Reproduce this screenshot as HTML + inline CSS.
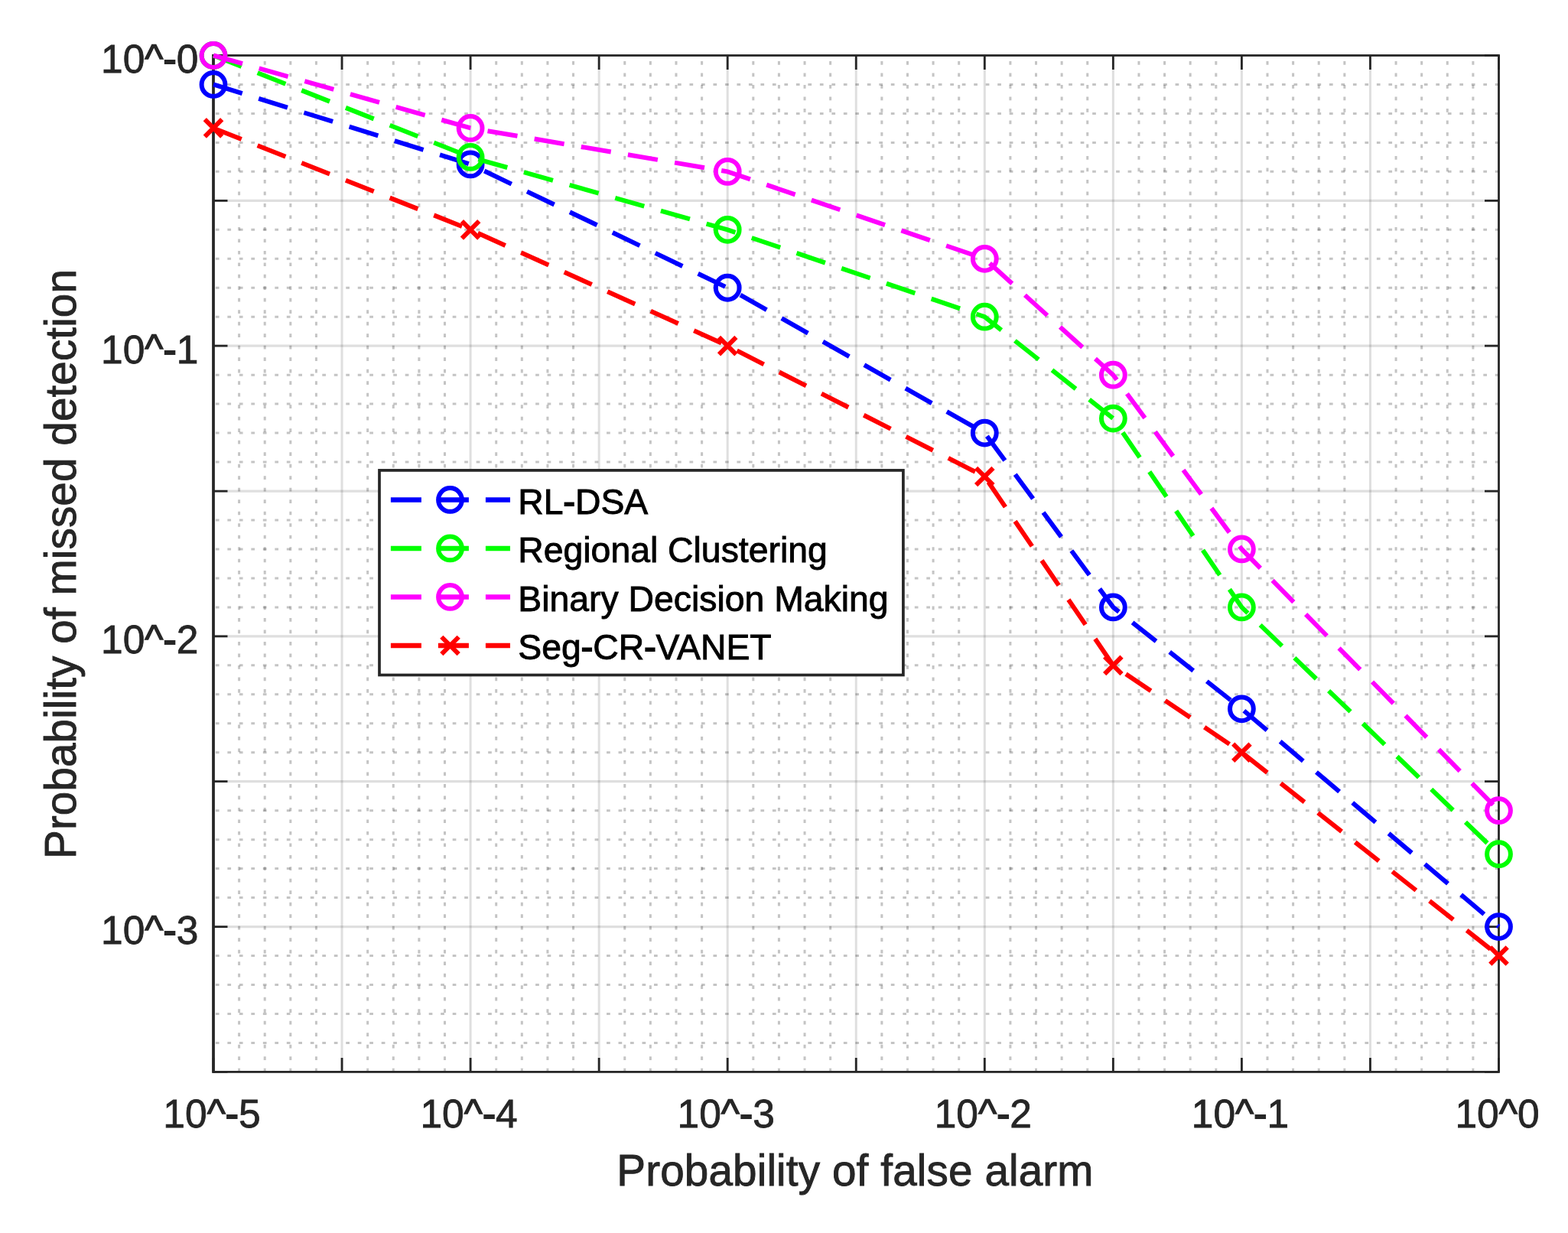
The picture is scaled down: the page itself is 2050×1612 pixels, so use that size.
<!DOCTYPE html>
<html><head><meta charset="utf-8"><title>Probability of missed detection vs false alarm</title>
<style>html,body{margin:0;padding:0;background:#fff;width:2050px;height:1612px;overflow:hidden;}svg{display:block;}</style>
</head><body>
<svg width="2050" height="1612" viewBox="0 0 2050 1612">
<rect width="2050" height="1612" fill="#fff"/>
<path d="M447.05 72.5V1401.4M615.1 72.5V1401.4M783.15 72.5V1401.4M951.2 72.5V1401.4M1119.25 72.5V1401.4M1287.3 72.5V1401.4M1455.35 72.5V1401.4M1623.4 72.5V1401.4M1791.45 72.5V1401.4" stroke="#262626" stroke-opacity="0.15" stroke-width="3" fill="none"/>
<path d="M279 262.34H1959.5M279 452.19H1959.5M279 642.03H1959.5M279 831.87H1959.5M279 1021.71H1959.5M279 1211.56H1959.5" stroke="#262626" stroke-opacity="0.15" stroke-width="3.2" fill="none"/>
<path d="M312.61 1401.4V72.5M346.22 1401.4V72.5M379.83 1401.4V72.5M413.44 1401.4V72.5M480.66 1401.4V72.5M514.27 1401.4V72.5M547.88 1401.4V72.5M581.49 1401.4V72.5M648.71 1401.4V72.5M682.32 1401.4V72.5M715.93 1401.4V72.5M749.54 1401.4V72.5M816.76 1401.4V72.5M850.37 1401.4V72.5M883.98 1401.4V72.5M917.59 1401.4V72.5M984.81 1401.4V72.5M1018.42 1401.4V72.5M1052.03 1401.4V72.5M1085.64 1401.4V72.5M1152.86 1401.4V72.5M1186.47 1401.4V72.5M1220.08 1401.4V72.5M1253.69 1401.4V72.5M1320.91 1401.4V72.5M1354.52 1401.4V72.5M1388.13 1401.4V72.5M1421.74 1401.4V72.5M1488.96 1401.4V72.5M1522.57 1401.4V72.5M1556.18 1401.4V72.5M1589.79 1401.4V72.5M1657.01 1401.4V72.5M1690.62 1401.4V72.5M1724.23 1401.4V72.5M1757.84 1401.4V72.5M1825.06 1401.4V72.5M1858.67 1401.4V72.5M1892.28 1401.4V72.5M1925.89 1401.4V72.5" stroke="#262626" stroke-opacity="0.27" stroke-width="3" stroke-dasharray="4.7 10.79" fill="none"/>
<path d="M1959.5 110.47H279M1959.5 148.44H279M1959.5 186.41H279M1959.5 224.37H279M1959.5 300.31H279M1959.5 338.28H279M1959.5 376.25H279M1959.5 414.22H279M1959.5 490.15H279M1959.5 528.12H279M1959.5 566.09H279M1959.5 604.06H279M1959.5 680H279M1959.5 717.97H279M1959.5 755.93H279M1959.5 793.9H279M1959.5 869.84H279M1959.5 907.81H279M1959.5 945.78H279M1959.5 983.75H279M1959.5 1059.68H279M1959.5 1097.65H279M1959.5 1135.62H279M1959.5 1173.59H279M1959.5 1249.53H279M1959.5 1287.49H279M1959.5 1325.46H279M1959.5 1363.43H279" stroke="#262626" stroke-opacity="0.27" stroke-width="3" stroke-dasharray="4.7 10.79" fill="none"/>
<path d="M279 1401.4v-18.5M279 72.5v18.5M447.05 1401.4v-18.5M447.05 72.5v18.5M615.1 1401.4v-18.5M615.1 72.5v18.5M783.15 1401.4v-18.5M783.15 72.5v18.5M951.2 1401.4v-18.5M951.2 72.5v18.5M1119.25 1401.4v-18.5M1119.25 72.5v18.5M1287.3 1401.4v-18.5M1287.3 72.5v18.5M1455.35 1401.4v-18.5M1455.35 72.5v18.5M1623.4 1401.4v-18.5M1623.4 72.5v18.5M1791.45 1401.4v-18.5M1791.45 72.5v18.5M1959.5 1401.4v-18.5M1959.5 72.5v18.5M279 72.5h18.5M1959.5 72.5h-18.5M279 262.34h18.5M1959.5 262.34h-18.5M279 452.19h18.5M1959.5 452.19h-18.5M279 642.03h18.5M1959.5 642.03h-18.5M279 831.87h18.5M1959.5 831.87h-18.5M279 1021.71h18.5M1959.5 1021.71h-18.5M279 1211.56h18.5M1959.5 1211.56h-18.5M279 1401.4h18.5M1959.5 1401.4h-18.5" stroke="#262626" stroke-width="2.8" fill="none"/>
<rect x="279" y="72.5" width="1680.5" height="1328.9" stroke="#262626" stroke-width="2.8" fill="none"/>
<path d="M279 71.1V1402.8" stroke="#262626" stroke-width="3.6" fill="none"/>
<g font-family="&quot;Liberation Sans&quot;, Arial, Helvetica, sans-serif" fill="#262626" stroke="#262626" stroke-width="0.8" font-size="51.5">
<text x="277" y="1474" text-anchor="middle">10<tspan stroke-width="1.3" dy="-1.5">^</tspan><tspan stroke-width="1.9" dy="1.5">-</tspan>5</text>
<text x="613.1" y="1474" text-anchor="middle">10<tspan stroke-width="1.3" dy="-1.5">^</tspan><tspan stroke-width="1.9" dy="1.5">-</tspan>4</text>
<text x="949.2" y="1474" text-anchor="middle">10<tspan stroke-width="1.3" dy="-1.5">^</tspan><tspan stroke-width="1.9" dy="1.5">-</tspan>3</text>
<text x="1285.3" y="1474" text-anchor="middle">10<tspan stroke-width="1.3" dy="-1.5">^</tspan><tspan stroke-width="1.9" dy="1.5">-</tspan>2</text>
<text x="1621.4" y="1474" text-anchor="middle">10<tspan stroke-width="1.3" dy="-1.5">^</tspan><tspan stroke-width="1.9" dy="1.5">-</tspan>1</text>
<text x="1957.5" y="1474" text-anchor="middle">10<tspan stroke-width="1.3" dy="-1.5">^</tspan><tspan dy="1.5">0</tspan></text>
<text x="259.3" y="95.1" text-anchor="end">10<tspan stroke-width="1.3" dy="-1.5">^</tspan><tspan stroke-width="1.9" dy="1.5">-</tspan>0</text>
<text x="259.3" y="474.79" text-anchor="end">10<tspan stroke-width="1.3" dy="-1.5">^</tspan><tspan stroke-width="1.9" dy="1.5">-</tspan>1</text>
<text x="259.3" y="854.47" text-anchor="end">10<tspan stroke-width="1.3" dy="-1.5">^</tspan><tspan stroke-width="1.9" dy="1.5">-</tspan>2</text>
<text x="259.3" y="1234.16" text-anchor="end">10<tspan stroke-width="1.3" dy="-1.5">^</tspan><tspan stroke-width="1.9" dy="1.5">-</tspan>3</text>
</g>
<text font-family="&quot;Liberation Sans&quot;, Arial, Helvetica, sans-serif" fill="#262626" stroke="#262626" stroke-width="0.9" letter-spacing="0.12" font-size="56.65" x="1118" y="1550" text-anchor="middle">Probability of false alarm</text>
<text font-family="&quot;Liberation Sans&quot;, Arial, Helvetica, sans-serif" fill="#262626" stroke="#262626" stroke-width="0.9" letter-spacing="0.09" font-size="56.65" transform="translate(98.9 737.5) rotate(-90)" text-anchor="middle">Probability of missed detection</text>
<polyline points="279,110.47 615.1,214.88 951.2,376.25 1287.3,566.09 1455.35,793.9 1623.4,926.79 1959.5,1211.56" fill="none" stroke="#0000ff" stroke-width="6.0" stroke-dasharray="39.5 22.5" stroke-linejoin="miter"/>
<circle cx="279" cy="110.47" r="15.4" fill="none" stroke="#0000ff" stroke-width="6.0"/>
<circle cx="615.1" cy="214.88" r="15.4" fill="none" stroke="#0000ff" stroke-width="6.0"/>
<circle cx="951.2" cy="376.25" r="15.4" fill="none" stroke="#0000ff" stroke-width="6.0"/>
<circle cx="1287.3" cy="566.09" r="15.4" fill="none" stroke="#0000ff" stroke-width="6.0"/>
<circle cx="1455.35" cy="793.9" r="15.4" fill="none" stroke="#0000ff" stroke-width="6.0"/>
<circle cx="1623.4" cy="926.79" r="15.4" fill="none" stroke="#0000ff" stroke-width="6.0"/>
<circle cx="1959.5" cy="1211.56" r="15.4" fill="none" stroke="#0000ff" stroke-width="6.0"/>
<polyline points="279,72.5 615.1,205.39 951.2,300.31 1287.3,414.22 1455.35,547.11 1623.4,793.9 1959.5,1116.64" fill="none" stroke="#00ff00" stroke-width="6.0" stroke-dasharray="39.5 22.5" stroke-linejoin="miter"/>
<circle cx="279" cy="72.5" r="15.4" fill="none" stroke="#00ff00" stroke-width="6.0"/>
<circle cx="615.1" cy="205.39" r="15.4" fill="none" stroke="#00ff00" stroke-width="6.0"/>
<circle cx="951.2" cy="300.31" r="15.4" fill="none" stroke="#00ff00" stroke-width="6.0"/>
<circle cx="1287.3" cy="414.22" r="15.4" fill="none" stroke="#00ff00" stroke-width="6.0"/>
<circle cx="1455.35" cy="547.11" r="15.4" fill="none" stroke="#00ff00" stroke-width="6.0"/>
<circle cx="1623.4" cy="793.9" r="15.4" fill="none" stroke="#00ff00" stroke-width="6.0"/>
<circle cx="1959.5" cy="1116.64" r="15.4" fill="none" stroke="#00ff00" stroke-width="6.0"/>
<polyline points="279,72.5 615.1,167.42 951.2,224.37 1287.3,338.28 1455.35,490.15 1623.4,717.97 1959.5,1059.68" fill="none" stroke="#ff00ff" stroke-width="6.0" stroke-dasharray="39.5 22.5" stroke-linejoin="miter"/>
<circle cx="279" cy="72.5" r="15.4" fill="none" stroke="#ff00ff" stroke-width="6.0"/>
<circle cx="615.1" cy="167.42" r="15.4" fill="none" stroke="#ff00ff" stroke-width="6.0"/>
<circle cx="951.2" cy="224.37" r="15.4" fill="none" stroke="#ff00ff" stroke-width="6.0"/>
<circle cx="1287.3" cy="338.28" r="15.4" fill="none" stroke="#ff00ff" stroke-width="6.0"/>
<circle cx="1455.35" cy="490.15" r="15.4" fill="none" stroke="#ff00ff" stroke-width="6.0"/>
<circle cx="1623.4" cy="717.97" r="15.4" fill="none" stroke="#ff00ff" stroke-width="6.0"/>
<circle cx="1959.5" cy="1059.68" r="15.4" fill="none" stroke="#ff00ff" stroke-width="6.0"/>
<polyline points="279,167.42 615.1,300.31 951.2,452.19 1287.3,623.04 1455.35,869.84 1623.4,983.75 1959.5,1249.53" fill="none" stroke="#ff0000" stroke-width="6.0" stroke-dasharray="39.5 22.5" stroke-linejoin="miter"/>
<path d="M267.8 156.22L290.2 178.62M267.8 178.62L290.2 156.22" stroke="#ff0000" stroke-width="6.0" fill="none"/>
<path d="M603.9 289.11L626.3 311.51M603.9 311.51L626.3 289.11" stroke="#ff0000" stroke-width="6.0" fill="none"/>
<path d="M940 440.99L962.4 463.39M940 463.39L962.4 440.99" stroke="#ff0000" stroke-width="6.0" fill="none"/>
<path d="M1276.1 611.84L1298.5 634.24M1276.1 634.24L1298.5 611.84" stroke="#ff0000" stroke-width="6.0" fill="none"/>
<path d="M1444.15 858.64L1466.55 881.04M1444.15 881.04L1466.55 858.64" stroke="#ff0000" stroke-width="6.0" fill="none"/>
<path d="M1612.2 972.55L1634.6 994.95M1612.2 994.95L1634.6 972.55" stroke="#ff0000" stroke-width="6.0" fill="none"/>
<path d="M1948.3 1238.33L1970.7 1260.73M1948.3 1260.73L1970.7 1238.33" stroke="#ff0000" stroke-width="6.0" fill="none"/>
<rect x="496" y="614.9" width="684.9" height="267.6" fill="#fff" stroke="#262626" stroke-width="3.7"/>
<path d="M510.9 653.45H667" stroke="#0000ff" stroke-width="6.5" stroke-dasharray="40 22" fill="none"/>
<circle cx="588.5" cy="653.45" r="15.4" fill="none" stroke="#0000ff" stroke-width="6.0"/>
<text font-family="&quot;Liberation Sans&quot;, Arial, Helvetica, sans-serif" fill="#000" stroke="#000" stroke-width="0.9" font-size="46.35" x="677.3" y="671.7">RL<tspan stroke-width="1.9">-</tspan>DSA</text>
<path d="M510.9 716.95H667" stroke="#00ff00" stroke-width="6.5" stroke-dasharray="40 22" fill="none"/>
<circle cx="588.5" cy="716.95" r="15.4" fill="none" stroke="#00ff00" stroke-width="6.0"/>
<text font-family="&quot;Liberation Sans&quot;, Arial, Helvetica, sans-serif" fill="#000" stroke="#000" stroke-width="0.9" font-size="46.35" x="677.3" y="735.2">Regional Clustering</text>
<path d="M510.9 780.45H667" stroke="#ff00ff" stroke-width="6.5" stroke-dasharray="40 22" fill="none"/>
<circle cx="588.5" cy="780.45" r="15.4" fill="none" stroke="#ff00ff" stroke-width="6.0"/>
<text font-family="&quot;Liberation Sans&quot;, Arial, Helvetica, sans-serif" fill="#000" stroke="#000" stroke-width="0.9" font-size="46.35" x="677.3" y="798.7">Binary Decision Making</text>
<path d="M510.9 843.95H667" stroke="#ff0000" stroke-width="6.5" stroke-dasharray="40 22" fill="none"/>
<path d="M577.3 832.75L599.7 855.15M577.3 855.15L599.7 832.75" stroke="#ff0000" stroke-width="6.0" fill="none"/>
<text font-family="&quot;Liberation Sans&quot;, Arial, Helvetica, sans-serif" fill="#000" stroke="#000" stroke-width="0.9" font-size="46.35" x="677.3" y="862.2">Seg<tspan stroke-width="1.9">-</tspan>CR<tspan stroke-width="1.9">-</tspan>VANET</text>
</svg>
</body></html>
